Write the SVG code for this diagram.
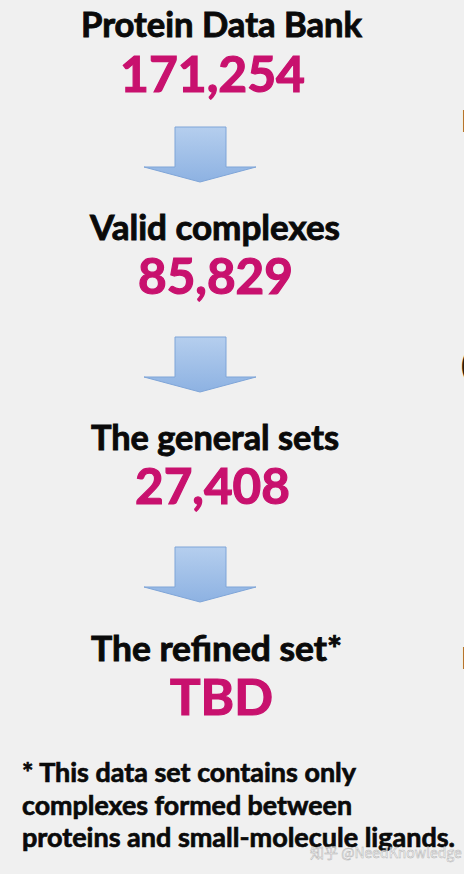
<svg xmlns="http://www.w3.org/2000/svg" width="464" height="874" viewBox="0 0 464 874">
  <defs>
    <linearGradient id="arrowFill" x1="0" y1="0" x2="0" y2="1">
      <stop offset="0" stop-color="#B5CEEE"/>
      <stop offset="1" stop-color="#8DB2E2"/>
    </linearGradient>
    <path id="arrowShape" d="M175,0 L226,0 L226,40 L256,40 L200,55 L144,40 L175,40 Z"/>
  </defs>
  <style>
    .head { font-family: Lato, "Liberation Sans", sans-serif; font-weight: 700; font-size: 34px; fill: #0a0a0a; stroke: #0a0a0a; stroke-width: 0.9; }
    .num { font-family: Lato, "Liberation Sans", sans-serif; font-weight: 700; font-size: 49px; fill: #C8116E; stroke: #C8116E; stroke-width: 1.2; }
    .note { font-family: Lato, "Liberation Sans", sans-serif; font-weight: 700; font-size: 27px; fill: #0a0a0a; stroke: #0a0a0a; stroke-width: 0.7; }
    .arrow { fill: url(#arrowFill); stroke: #7FA5D8; stroke-width: 1; stroke-linejoin: miter; }
    .edge { font-family: Lato, "Liberation Sans", sans-serif; font-weight: 700; font-size: 30px; fill: #2a1e10; }
    .wm { font-family: "Noto Sans CJK SC", "Noto Sans", sans-serif; font-size: 14px; fill: #ffffff; stroke: #a8a8a8; stroke-width: 0.5; opacity: 0.85; }
  </style>
  <rect x="0" y="0" width="464" height="874" fill="#F0F0F0"/>

  <g id="node-pdb">
    <text class="head" x="81" y="37" textLength="281" lengthAdjust="spacingAndGlyphs">Protein Data Bank</text>
    <text class="num" x="120" y="92" textLength="185" lengthAdjust="spacingAndGlyphs">171,254</text>
  </g>
  <g id="node-valid">
    <text class="head" x="90" y="240" textLength="250" lengthAdjust="spacingAndGlyphs">Valid complexes</text>
    <text class="num" x="138" y="294" textLength="155" lengthAdjust="spacingAndGlyphs">85,829</text>
  </g>
  <g id="node-general">
    <text class="head" x="91" y="450" textLength="248" lengthAdjust="spacingAndGlyphs">The general sets</text>
    <text class="num" x="135" y="504" textLength="155" lengthAdjust="spacingAndGlyphs">27,408</text>
  </g>
  <g id="node-refined">
    <text class="head" x="91" y="661" textLength="251" lengthAdjust="spacingAndGlyphs">The refined set*</text>
    <text class="num" x="170" y="715" font-size="45" textLength="103" lengthAdjust="spacingAndGlyphs">TBD</text>
  </g>

  <g id="connectors">
    <use href="#arrowShape" class="arrow" transform="translate(0,127)"/>
    <use href="#arrowShape" class="arrow" transform="translate(0,337)"/>
    <use href="#arrowShape" class="arrow" transform="translate(0,547)"/>
  </g>

  <g id="footnote">
    <text class="note" x="22" y="782" textLength="334" lengthAdjust="spacingAndGlyphs">* This data set contains only</text>
    <text class="note" x="22" y="815" textLength="330" lengthAdjust="spacingAndGlyphs">complexes formed between</text>
    <text class="note" x="22" y="847" textLength="433" lengthAdjust="spacingAndGlyphs">proteins and small-molecule ligands.</text>
  </g>

  <g id="edge-fragments">
    <text class="edge" x="461" y="132">I</text>
    <text class="edge" x="461" y="376">(</text>
    <text class="edge" x="461" y="669">I</text>
  </g>

  <g id="watermark">
    <text class="wm" x="310" y="858">知乎 @NeedKnowledge</text>
  </g>
</svg>
